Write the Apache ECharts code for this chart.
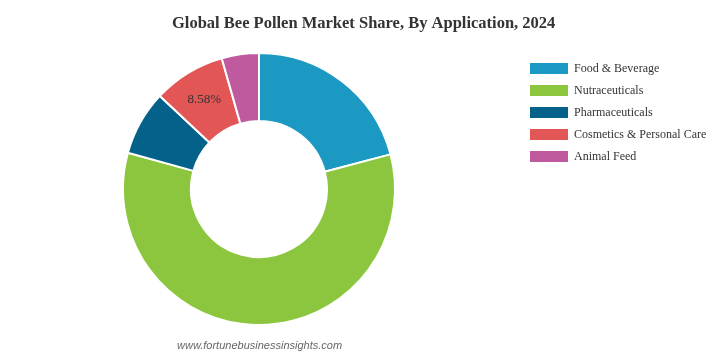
<!DOCTYPE html>
<html><head><meta charset="utf-8">
<script src="https://cdn.jsdelivr.net/npm/echarts@6/dist/echarts.min.js"></script>
<style>html,body{margin:0;padding:0;background:#fff}#c{width:716px;height:358px}</style>
</head><body><div id="c"></div>
<script>
const categories = ["Food & Beverage","Nutraceuticals","Pharmaceuticals","Cosmetics & Personal Care","Animal Feed"];
const values = [20.9, 58.4, 7.7, 8.58, 4.42];
const colors = ["#1b99c3","#8cc63f","#04628a","#e35656","#c05a9f"];
const labelled = ["Cosmetics & Personal Care"];

const chart = echarts.init(document.getElementById('c'));
chart.setOption({
  animation:false,
  title:{text:"Global Bee Pollen Market Share, By Application, 2024",left:167,top:10,
    textStyle:{fontFamily:"Liberation Serif",fontWeight:'bold',fontSize:16.5,color:'#333'}},
  legend:{orient:'vertical',left:523,top:56,itemWidth:40,itemHeight:13,itemGap:7,
    icon:'rect',textStyle:{fontFamily:"Liberation Serif",fontSize:12,color:'#333'},data:categories},
  graphic:[{type:'text',left:177,top:340,style:{text:'www.fortunebusinessinsights.com',
    font:'italic 11px "Liberation Sans"',fill:'#666'}}],
  series:[{type:'pie',center:[259,189],radius:[68,136],startAngle:90,clockwise:true,
    itemStyle:{borderColor:'#fff',borderWidth:2},
    label:{show:false},labelLine:{show:false},
    data:categories.map((c,i)=>({name:c,value:values[i],itemStyle:{color:colors[i]},
      label: labelled.includes(c)?{show:true,position:'inside',formatter:'{c}%',
        fontFamily:'Liberation Serif',fontSize:13,color:'#333'}:{show:false}}))
  }]
});
</script></body></html>
